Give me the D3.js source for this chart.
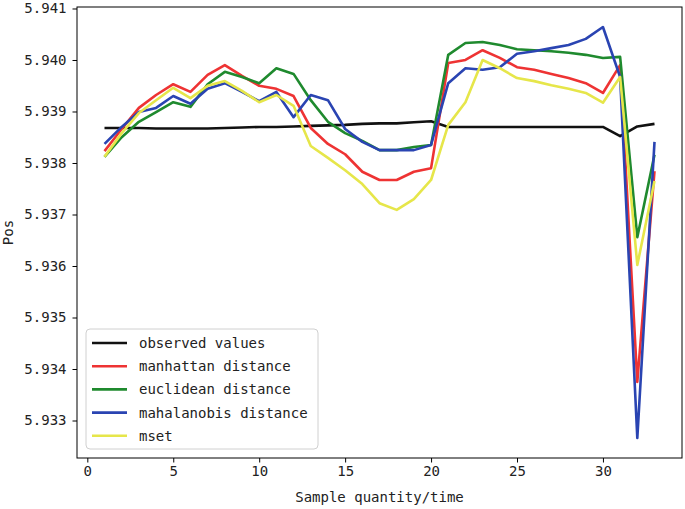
<!DOCTYPE html>
<html>
<head>
<meta charset="utf-8">
<script src="https://cdn.jsdelivr.net/npm/d3@7"></script>
<style>
  html, body { margin: 0; padding: 0; background: #fff; }
  svg { display: block; }
  text { font-family: "DejaVu Sans Mono", "Liberation Mono", monospace; fill: #222; }
</style>
</head>
<body>
<div id="chart"></div>
<script>
const xValues = d3.range(1, 34);
const seriesNames = ['observed values', 'manhattan distance', 'euclidean distance', 'mahalanobis distance', 'mset'];
const seriesColors = ['#111111', '#ee3333', '#1f8a2e', '#2a44b2', '#e6e64a'];

const observed = [5.93868, 5.93868, 5.93868, 5.93867, 5.93867, 5.93867, 5.93867, 5.93868, 5.93869, 5.93870,
  5.93870, 5.93871, 5.93872, 5.93873, 5.93874, 5.93876, 5.93877, 5.93877, 5.93879, 5.93881,
  5.93870, 5.93870, 5.93870, 5.93870, 5.93870, 5.93870, 5.93870, 5.93870, 5.93870, 5.93870,
  5.93852, 5.93871, 5.93876];
const manhattan = [5.93823, 5.93866, 5.93907, 5.93932, 5.93953, 5.93938, 5.93971, 5.93990, 5.93969, 5.93950,
  5.93944, 5.93930, 5.93868, 5.93837, 5.93817, 5.93783, 5.93767, 5.93767, 5.93783, 5.93790,
  5.93994, 5.94000, 5.94019, 5.94004, 5.93986, 5.93981, 5.93973, 5.93965, 5.93955, 5.93936,
  5.93990, 5.93375, 5.93784];
const euclidean = [5.93812, 5.93850, 5.93880, 5.93899, 5.93918, 5.93909, 5.93953, 5.93977, 5.93967, 5.93955,
  5.93984, 5.93973, 5.93922, 5.93880, 5.93858, 5.93843, 5.93825, 5.93825, 5.93831, 5.93835,
  5.94010, 5.94033, 5.94035, 5.94029, 5.94021, 5.94019, 5.94017, 5.94014, 5.94010, 5.94004,
  5.94006, 5.93656, 5.93816];
const mahalanobis = [5.93837, 5.93870, 5.93899, 5.93907, 5.93930, 5.93915, 5.93944, 5.93955, 5.93938, 5.93920,
  5.93938, 5.93889, 5.93932, 5.93922, 5.93866, 5.93841, 5.93825, 5.93825, 5.93825, 5.93835,
  5.93955, 5.93984, 5.93981, 5.93986, 5.94012, 5.94017, 5.94023, 5.94029, 5.94041, 5.94064,
  5.93967, 5.93266, 5.93841];
const mset = [5.93812, 5.93858, 5.93897, 5.93922, 5.93946, 5.93926, 5.93950, 5.93959, 5.93940, 5.93918,
  5.93932, 5.93911, 5.93833, 5.93810, 5.93786, 5.93759, 5.93722, 5.93709, 5.93730, 5.93767,
  5.93874, 5.93918, 5.94000, 5.93984, 5.93965, 5.93959, 5.93951, 5.93944, 5.93936, 5.93917,
  5.93967, 5.93602, 5.93765];

const xTicks = [0, 5, 10, 15, 20, 25, 30];
const yTicks = [5.933, 5.934, 5.935, 5.936, 5.937, 5.938, 5.939, 5.940, 5.941];
const xLabel = 'Sample quantity/time';
const yLabel = 'Pos';

const allSeries = [observed, manhattan, euclidean, mahalanobis, mset];

const width = 685, height = 509;
const margin = { left: 77, right: 3, top: 7, bottom: 51 };

const svg = d3.select('#chart').append('svg')
  .attr('width', width).attr('height', height);

const x = d3.scaleLinear().domain([-0.6, 34.6]).range([margin.left, width - margin.right]);
const y = d3.scaleLinear().domain([5.932272, 5.941029]).range([height - margin.bottom, margin.top]);

// lines
const line = d3.line().x((d, i) => x(xValues[i])).y(d => y(d));
const plot = svg.append('g');
allSeries.forEach((s, k) => {
  plot.append('path').datum(s)
    .attr('d', line)
    .attr('fill', 'none')
    .attr('stroke', seriesColors[k])
    .attr('stroke-width', 2.6)
    .attr('stroke-linejoin', 'round');
});

// frame
svg.append('rect')
  .attr('x', x.range()[0]).attr('y', y.range()[1])
  .attr('width', x.range()[1] - x.range()[0])
  .attr('height', y.range()[0] - y.range()[1])
  .attr('fill', 'none').attr('stroke', '#000').attr('stroke-width', 1);

// axes
const xAxis = svg.append('g')
  .attr('transform', `translate(0,${y.range()[0]})`)
  .call(d3.axisBottom(x).tickValues(xTicks).tickSize(4.5).tickPadding(4).tickFormat(d3.format('d')));
const yAxis = svg.append('g')
  .attr('transform', `translate(${x.range()[0]},0)`)
  .call(d3.axisLeft(y).tickValues(yTicks).tickSize(4.5).tickPadding(6).tickFormat(d3.format('.3f')));
[xAxis, yAxis].forEach(a => {
  a.select('.domain').remove();
  a.selectAll('line').attr('stroke', '#000');
  a.selectAll('text').style('font-size', '14px').attr('fill', '#222');
});

svg.append('text')
  .attr('x', (x.range()[0] + x.range()[1]) / 2).attr('y', 502)
  .attr('text-anchor', 'middle').style('font-size', '14px').text(xLabel);
svg.append('text')
  .attr('transform', `translate(13,${(y.range()[0] + y.range()[1]) / 2}) rotate(-90)`)
  .attr('text-anchor', 'middle').style('font-size', '14px').text(yLabel);

// legend
const legend = svg.append('g').attr('transform', 'translate(86,329)');
legend.append('rect')
  .attr('width', 232).attr('height', 120).attr('rx', 4)
  .attr('fill', 'rgba(255,255,255,0.8)').attr('stroke', '#d0d0d0');
seriesNames.forEach((name, k) => {
  const row = legend.append('g').attr('transform', `translate(0,${14 + k * 23.2})`);
  row.append('line').attr('x1', 6).attr('x2', 41)
    .attr('stroke', seriesColors[k]).attr('stroke-width', 2.6);
  row.append('text').attr('x', 53).attr('dy', '0.35em')
    .style('font-size', '14px').text(name);
});
</script>
</body>
</html>
